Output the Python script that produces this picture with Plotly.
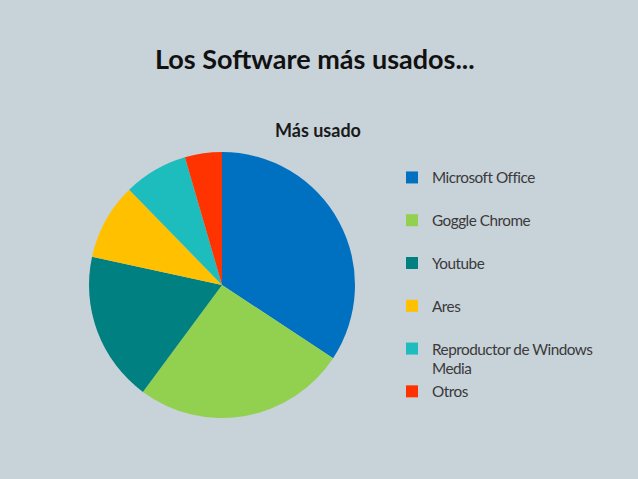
import plotly.graph_objects as go

categories = ["Microsoft Office", "Goggle Chrome", "Youtube", "Ares",
              "Reproductor de Windows Media", "Otros"]
values = [34.3, 25.9, 18.3, 9.3, 7.8, 4.5]
colors = ["#0070C0", "#92D050", "#008080", "#FFC000", "#1DBDBD", "#FF3300"]

def legend_label(s):
    if s == "Reproductor de Windows Media":
        txt = "Reproductor de Windows<br>Media"
    else:
        txt = s + "<br> "
    return "<span style='letter-spacing:-0.5px'>" + txt + "</span>"

labels = [legend_label(c) for c in categories]

W, H = 638, 479
cx, cy, r = 222, 285, 133

fig = go.Figure(go.Pie(
    labels=labels,
    values=values,
    marker=dict(colors=colors, line=dict(width=0)),
    sort=False,
    direction="clockwise",
    rotation=0,
    textinfo="none",
    hoverinfo="label+percent",
    domain=dict(x=[(cx - r) / W, (cx + r) / W], y=[1 - (cy + r) / H, 1 - (cy - r) / H]),
))

fig.update_layout(
    width=W, height=H,
    margin=dict(l=0, r=0, t=0, b=0),
    paper_bgcolor="#C8D2D9",
    plot_bgcolor="#C8D2D9",
    font=dict(family="Lato", color="#3A3A3A", size=15.3),
    title=dict(text="<b>Los Software más usados...</b>", x=155 / W, xanchor="left",
               y=1 - 60 / H, yanchor="middle", font=dict(size=27, color="#111111")),
    legend=dict(x=392 / W, y=1 - 161 / H, xanchor="left", yanchor="top",
                valign="top", font=dict(size=15.3, color="#3A3A3A"),
                bgcolor="rgba(0,0,0,0)", itemwidth=30, tracegroupgap=0),
    annotations=[dict(text="<b>Más usado</b>", x=318 / W, y=1 - 130 / H,
                      xref="paper", yref="paper", showarrow=False,
                      xanchor="center", yanchor="middle",
                      font=dict(size=18, color="#1A1A1A"))],
)

fig.write_html("out.html", config={"displayModeBar": False},
               post_script="document.body.style.margin='0';")
